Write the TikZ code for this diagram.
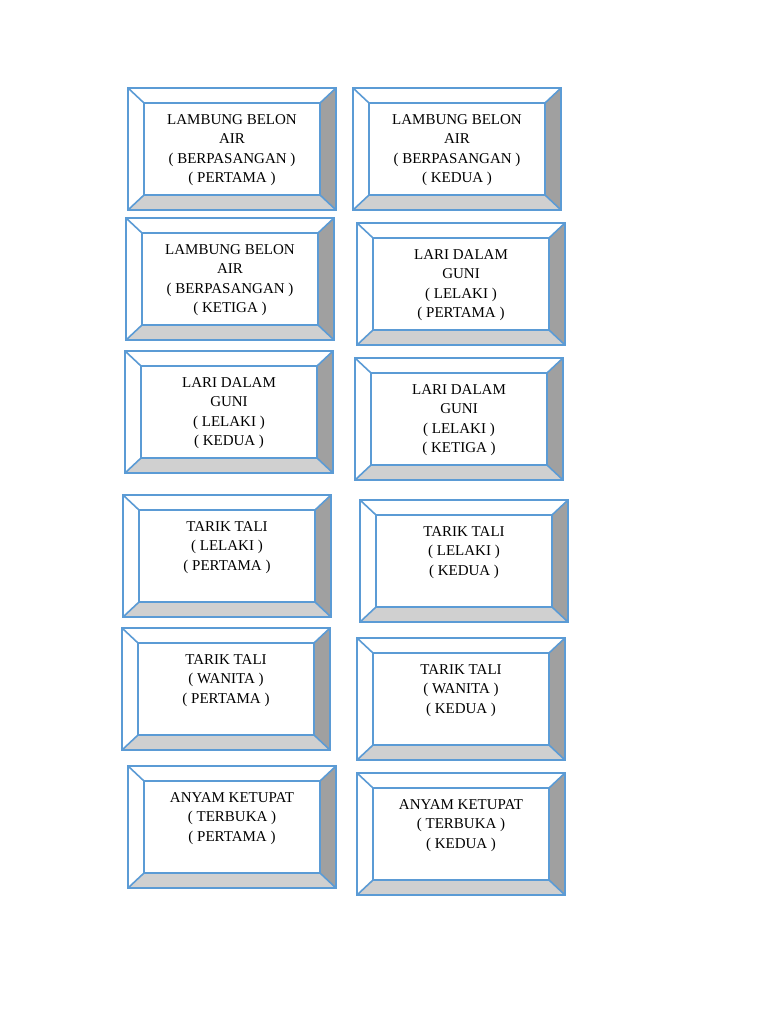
\documentclass[tikz,border=0pt]{standalone}
\usepackage{fontspec}
\setmainfont{Liberation Serif}
\definecolor{bl}{HTML}{5B9BD5}
\definecolor{dg}{HTML}{A0A0A0}
\definecolor{lg}{HTML}{D0D0D0}
\tikzset{edge/.style={draw=bl,line width=1.6pt,line join=miter},
lbl/.style={anchor=north,align=center,font=\fontsize{15}{19.5}\selectfont,inner sep=0pt}}
\newcommand\bevbox[4]{%
\coordinate (#3a) at (#1,#2);
\coordinate (#3b) at (#1+208,#2);
\coordinate (#3c) at (#1+208,#2+122);
\coordinate (#3d) at (#1,#2+122);
\coordinate (#3e) at (#1+16,#2+15);
\coordinate (#3f) at (#1+192,#2+15);
\coordinate (#3g) at (#1+192,#2+107);
\coordinate (#3h) at (#1+16,#2+107);
\fill[white] (#3a)--(#3b)--(#3f)--(#3e)--cycle;
\fill[white] (#3a)--(#3e)--(#3h)--(#3d)--cycle;
\fill[dg] (#3b)--(#3c)--(#3g)--(#3f)--cycle;
\fill[lg] (#3d)--(#3c)--(#3g)--(#3h)--cycle;
\draw[edge] (#3a) rectangle (#3c);
\draw[edge] (#3e) rectangle (#3g);
\draw[edge] (#3a)--(#3e) (#3b)--(#3f) (#3c)--(#3g) (#3d)--(#3h);
\node[lbl] (#3t) at (#1+104,#2+26) {#4};}
\begin{document}
\begin{tikzpicture}[x=1pt,y=-1pt]
\useasboundingbox[fill=white] (0,0) rectangle (768,1024);
\bevbox{128}{88}{b1}{LAMBUNG BELON\\AIR\\( BERPASANGAN )\\( PERTAMA )}
\bevbox{353}{88}{b2}{LAMBUNG BELON\\AIR\\( BERPASANGAN )\\( KEDUA )}
\bevbox{126}{218}{b3}{LAMBUNG BELON\\AIR\\( BERPASANGAN )\\( KETIGA )}
\bevbox{357}{223}{b4}{LARI DALAM\\GUNI\\( LELAKI )\\( PERTAMA )}
\bevbox{125}{351}{b5}{LARI DALAM\\GUNI\\( LELAKI )\\( KEDUA )}
\bevbox{355}{358}{b6}{LARI DALAM\\GUNI\\( LELAKI )\\( KETIGA )}
\bevbox{123}{495}{b7}{TARIK TALI\\( LELAKI )\\( PERTAMA )}
\bevbox{360}{500}{b8}{TARIK TALI\\( LELAKI )\\( KEDUA )}
\bevbox{122}{628}{b9}{TARIK TALI\\( WANITA )\\( PERTAMA )}
\bevbox{357}{638}{b10}{TARIK TALI\\( WANITA )\\( KEDUA )}
\bevbox{128}{766}{b11}{ANYAM KETUPAT\\( TERBUKA )\\( PERTAMA )}
\bevbox{357}{773}{b12}{ANYAM KETUPAT\\( TERBUKA )\\( KEDUA )}
\end{tikzpicture}
\end{document}
